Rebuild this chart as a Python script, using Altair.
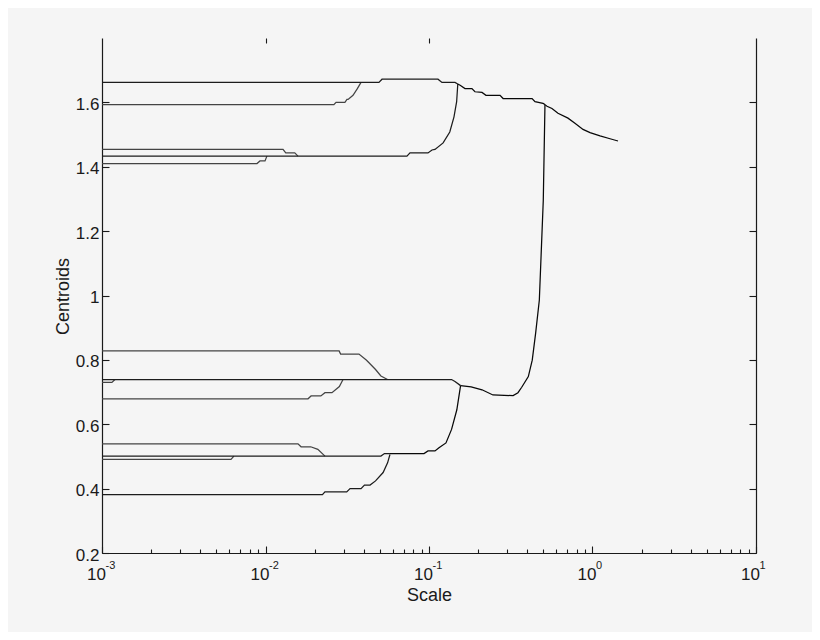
import altair as alt
import pandas as pd

# ---------------- data (scale, centroid) ----------------
# upper cluster
c159_x = [0.001, 0.0262, 0.0270, 0.0306, 0.0315, 0.0320, 0.0343, 0.0363, 0.0384]
c159_y = [1.593, 1.593, 1.600, 1.600, 1.609, 1.609, 1.622, 1.641, 1.662]
c145_x = [0.001, 0.0128, 0.0133, 0.0151, 0.0158]
c145_y = [1.454, 1.454, 1.443, 1.443, 1.433]
c141_x = [0.001, 0.00887, 0.00925, 0.00993, 0.0102]
c141_y = [1.410, 1.410, 1.418, 1.418, 1.433]
c143_x = [0.001, 0.0733, 0.0765, 0.0986, 0.1043, 0.1088, 0.122, 0.134, 0.1422, 0.1476, 0.150]
c143_y = [1.433, 1.433, 1.443, 1.443, 1.452, 1.454, 1.474, 1.508, 1.555, 1.602, 1.657]
c166_x = [0.001, 0.0494, 0.0516, 0.1135, 0.120, 0.1442, 0.150]
c166_y = [1.662, 1.662, 1.672, 1.672, 1.662, 1.662, 1.657]
ctop_x = [0.150, 0.155, 0.166, 0.183, 0.191, 0.211, 0.223, 0.272, 0.284, 0.427, 0.445, 0.498, 0.512]
ctop_y = [1.657, 1.653, 1.643, 1.643, 1.633, 1.631, 1.622, 1.622, 1.612, 1.612, 1.602, 1.597, 1.593]
cfin_x = [0.512, 0.527, 0.565, 0.615, 0.708, 0.781, 0.875, 0.966, 1.112, 1.280, 1.432]
cfin_y = [1.593, 1.588, 1.581, 1.566, 1.551, 1.535, 1.516, 1.506, 1.496, 1.487, 1.480]

# lower cluster
c083_x = [0.001, 0.0282, 0.0288, 0.0373, 0.0415, 0.0471, 0.0508, 0.0558]
c083_y = [0.828, 0.828, 0.818, 0.818, 0.799, 0.770, 0.750, 0.739]
c073_x = [0.001, 0.00115, 0.0012]
c073_y = [0.730, 0.730, 0.739]
c068_x = [0.001, 0.0182, 0.0190, 0.0218, 0.0231, 0.0255, 0.0283, 0.0298]
c068_y = [0.679, 0.679, 0.688, 0.688, 0.698, 0.698, 0.717, 0.739]
c074_x = [0.001, 0.1374, 0.1442, 0.156]
c074_y = [0.739, 0.739, 0.733, 0.720]
c054_x = [0.001, 0.0158, 0.0165, 0.0189, 0.0209, 0.0231]
c054_y = [0.539, 0.539, 0.530, 0.530, 0.522, 0.501]
c049_x = [0.001, 0.00615, 0.00641]
c049_y = [0.491, 0.491, 0.501]
c050_x = [0.001, 0.0508, 0.0534, 0.0577]
c050_y = [0.501, 0.501, 0.509, 0.509]
c038_x = [0.001, 0.0223, 0.0231, 0.0314, 0.0329, 0.0384, 0.0403, 0.0436, 0.0471, 0.0524, 0.0558, 0.0577]
c038_y = [0.381, 0.381, 0.390, 0.390, 0.400, 0.400, 0.411, 0.411, 0.424, 0.450, 0.480, 0.506]
c051_x = [0.0577, 0.0932, 0.0986, 0.1088, 0.1151, 0.127, 0.1374, 0.148, 0.156]
c051_y = [0.509, 0.509, 0.517, 0.517, 0.527, 0.542, 0.584, 0.645, 0.720]
c072_x = [0.156, 0.181, 0.211, 0.246, 0.327, 0.350, 0.369, 0.405, 0.428, 0.449, 0.473, 0.500, 0.512]
c072_y = [0.720, 0.716, 0.707, 0.691, 0.689, 0.698, 0.715, 0.748, 0.799, 0.883, 0.986, 1.296, 1.593]

# axis ticks / labels
x_decades = [0.001, 0.01, 0.1, 1, 10]
x_minor = [0.002, 0.003, 0.004, 0.005, 0.006, 0.007, 0.008, 0.009,
           0.02, 0.03, 0.04, 0.05, 0.06, 0.07, 0.08, 0.09,
           0.2, 0.3, 0.4, 0.5, 0.6, 0.7, 0.8, 0.9,
           2, 3, 4, 5, 6, 7, 8, 9]
x_top_visible = [0.01, 0.1]
y_ticks = [0.2, 0.4, 0.6, 0.8, 1, 1.2, 1.4, 1.6]

series = {
    "c159": (c159_x, c159_y), "c145": (c145_x, c145_y), "c141": (c141_x, c141_y),
    "c083": (c083_x, c083_y), "c073": (c073_x, c073_y), "c068": (c068_x, c068_y),
    "c054": (c054_x, c054_y), "c049": (c049_x, c049_y),
    "c143": (c143_x, c143_y), "c166": (c166_x, c166_y), "c074": (c074_x, c074_y),
    "c050": (c050_x, c050_y), "c038": (c038_x, c038_y),
    "ctop": (ctop_x, ctop_y), "cfin": (cfin_x, cfin_y),
    "c051": (c051_x, c051_y), "c072": (c072_x, c072_y),
}
rows = []
for name, (xs_, ys_) in series.items():
    for i, (xv, yv) in enumerate(zip(xs_, ys_)):
        rows.append({"series": name, "order": i, "scale": xv, "centroid": yv})
df = pd.DataFrame(rows)

# ---------------- styling ----------------
thin = ["c159", "c145", "c141", "c083", "c073", "c068", "c054", "c049"]
mid = ["c143", "c166", "c074", "c050", "c038"]
thick = ["ctop", "cfin", "c051", "c072"]
names = thin + mid + thick
widths = [1.25] * len(thin) + [1.6] * len(mid) + [2.0] * len(thick)
colors = ["#444444"] * len(thin) + ["#1c1c1c"] * len(mid) + ["#080808"] * len(thick)

W, H = 654, 515
FONT = "Liberation Sans"
INK = "#1a1a1a"
BG = "#f5f5f5"

xs = alt.Scale(type="log", domain=[0.001, 10])
ys = alt.Scale(domain=[0.2, 1.8])

lines = alt.Chart(df).mark_line(strokeJoin="miter").encode(
    x=alt.X("scale:Q", scale=xs, axis=alt.Axis(
        orient="bottom", values=x_decades, labelExpr="'10'", ticks=False, tickSize=0,
        domain=True, domainColor=INK, domainWidth=1.2, grid=False,
        labelFont=FONT, labelFontSize=17, labelColor=INK, labelBaseline="alphabetic",
        labelPadding=26, labelOffset=-6, labelFlush=False, labelOverlap=False,
        title="Scale", titleFont=FONT, titleFontSize=18, titleFontWeight="normal",
        titleColor=INK, titleX=327, titleY=47, titleBaseline="alphabetic", titleAlign="center")),
    y=alt.Y("centroid:Q", scale=ys, axis=alt.Axis(
        orient="left", values=y_ticks, labelExpr="'' + datum.value", ticks=False, tickSize=0,
        domain=True, domainColor=INK, domainWidth=1.2, grid=False,
        labelFont=FONT, labelFontSize=17, labelColor=INK, labelPadding=3, labelOffset=2,
        labelOverlap=False,
        title="Centroids", titleFont=FONT, titleFontSize=18, titleFontWeight="normal",
        titleColor=INK, titleX=-34, titleY=258, titleBaseline="alphabetic", titleAlign="center")),
    detail="series:N",
    order="order:Q",
    color=alt.Color("series:N", scale=alt.Scale(domain=names, range=colors), legend=None),
    strokeWidth=alt.StrokeWidth("series:N", scale=alt.Scale(domain=names, range=widths), legend=None),
)

base = alt.Chart(df).mark_point(opacity=0)

# inward major ticks on bottom edge + inward ticks on left edge
ticks_a = base.encode(
    x=alt.X("scale:Q", scale=xs, axis=alt.Axis(
        orient="top", offset=-H, values=x_decades, labels=False, domain=False, grid=False,
        ticks=True, tickSize=7, tickColor=INK, tickWidth=1.1, title="")),
    y=alt.Y("centroid:Q", scale=ys, axis=alt.Axis(
        orient="right", offset=-W, values=y_ticks, labels=False, domain=False, grid=False,
        ticks=True, tickSize=7, tickColor=INK, tickWidth=1.1, title="")),
)

# inward minor ticks on bottom edge + inward ticks on right edge
ticks_b = base.encode(
    x=alt.X("scale:Q", scale=xs, axis=alt.Axis(
        orient="top", offset=-H, values=x_minor, labels=False, domain=False, grid=False,
        ticks=True, tickSize=4, tickColor=INK, tickWidth=1.1, title="")),
    y=alt.Y("centroid:Q", scale=ys, axis=alt.Axis(
        orient="left", offset=-W, values=y_ticks, labels=False, domain=False, grid=False,
        ticks=True, tickSize=7, tickColor=INK, tickWidth=1.1, title="")),
)

# exponent labels + right frame line
expo = base.encode(
    x=alt.X("scale:Q", scale=xs, axis=alt.Axis(
        orient="bottom", values=x_decades, labelExpr="'' + round(log(datum.value) / LN10)",
        ticks=False, tickSize=0, domain=False, grid=False,
        labelFont=FONT, labelFontSize=11, labelColor=INK, labelAlign="left",
        labelBaseline="alphabetic", labelPadding=15, labelOffset=3,
        labelFlush=False, labelOverlap=False, title="")),
    y=alt.Y("centroid:Q", scale=ys, axis=alt.Axis(
        orient="right", labels=False, ticks=False, tickSize=0, domain=True,
        domainColor=INK, domainWidth=1.2, grid=False, title="")),
)

# the stubs of the top-edge ticks that remain visible
top_ticks = base.encode(
    x=alt.X("scale:Q", scale=xs, axis=alt.Axis(
        orient="bottom", offset=-H, values=x_top_visible, labels=False, domain=False,
        grid=False, ticks=True, tickSize=5, tickColor=INK, tickWidth=1.1, title="")),
    y=alt.Y("centroid:Q", scale=ys, axis=None),
)

chart = alt.layer(lines, ticks_a, ticks_b, expo, top_ticks).resolve_axis(
    x="independent", y="independent"
).properties(
    width=W, height=H,
    autosize=alt.AutoSizeParams(type="none"),
    padding={"left": 94, "top": 30, "right": 56, "bottom": 79},
    background=BG,
).configure_view(stroke=None)

chart.save("out.html", embed_options={"renderer": "svg", "actions": False})
